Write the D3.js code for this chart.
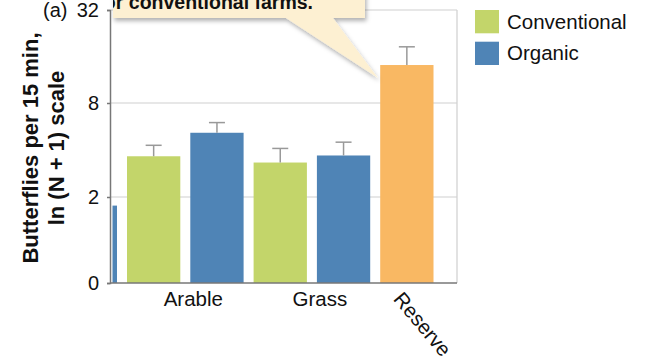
<!DOCTYPE html>
<html>
<head>
<meta charset="utf-8">
<script src="https://cdn.jsdelivr.net/npm/d3@7"></script>
<style>
  html, body { margin: 0; padding: 0; background: #fff; }
  svg { display: block; font-family: "Liberation Sans", Arial, Helvetica, sans-serif; }
</style>
</head>
<body>
<svg id="chart" width="653" height="359"></svg>
<script>
// ---- data ----
const barKeys    = ["prev", "ArableC", "ArableO", "GrassC", "GrassO", "Reserve"];
const barSystems = ["Organic", "Conventional", "Organic", "Conventional", "Organic", "Reserve"];
const barValues  = [1.8, 4.6, 6.1, 4.2, 4.65, 17.8];
const barErrors  = [null, 5.3, 6.75, 5.1, 5.5, 22.5];
const groupLabels = ["Arable", "Grass"];
const groupKeys   = [["ArableC", "ArableO"], ["GrassC", "GrassO"]];
const tickValues  = [0, 2, 8, 32];
const tickLabels  = ["0", "2", "8", "32"];
const legendItems = ["Conventional", "Organic"];
const colors = { Conventional: "#c3d56a", Organic: "#4f84b6", Reserve: "#f9b863" };

const svg = d3.select("#chart");
const plot = { left: 110, right: 457, top: 10, bottom: 283 };

const y = d3.scaleLinear().domain(tickValues).range([283, 197, 103, 10]);
const x = d3.scaleBand().domain(barKeys).range([63.7, 433.5]).paddingInner(0.158).paddingOuter(0);

// clip
const defs = svg.append("defs");
defs.append("clipPath").attr("id", "plotclip").append("rect")
  .attr("x", plot.left + 2.5).attr("y", 0).attr("width", plot.right - plot.left).attr("height", plot.bottom);
defs.append("clipPath").attr("id", "boxclip").append("rect")
  .attr("x", 113).attr("y", -10).attr("width", 252).attr("height", 28);
const f = defs.append("filter").attr("id", "shadow").attr("x", "-10%").attr("y", "-10%").attr("width", "130%").attr("height", "160%");
f.append("feDropShadow").attr("dx", 1.5).attr("dy", 3).attr("stdDeviation", 2).attr("flood-color", "#000").attr("flood-opacity", 0.3);

// frame + gridlines
svg.append("line").attr("x1", plot.right).attr("x2", plot.right).attr("y1", plot.top).attr("y2", plot.bottom)
  .attr("stroke", "#cfcfcf").attr("stroke-width", 1.2);
svg.append("g").selectAll("line").data(tickValues.slice(1)).join("line")
  .attr("x1", plot.left).attr("x2", plot.right)
  .attr("y1", d => y(d)).attr("y2", d => y(d))
  .attr("stroke", "#cfcfcf").attr("stroke-width", 1.2);

// bars
const bars = svg.append("g").attr("clip-path", "url(#plotclip)");
bars.selectAll("rect").data(barKeys).join("rect")
  .attr("x", d => x(d)).attr("width", x.bandwidth())
  .attr("y", (d, i) => y(barValues[i]))
  .attr("height", (d, i) => y(0) - y(barValues[i]))
  .attr("fill", (d, i) => colors[barSystems[i]]);

// error bars
const eb = svg.append("g").attr("stroke", "#999").attr("stroke-width", 1.5);
barKeys.forEach((k, i) => {
  if (barErrors[i] == null) return;
  const cx = x(k) + x.bandwidth() / 2;
  eb.append("line").attr("x1", cx).attr("x2", cx).attr("y1", y(barValues[i])).attr("y2", y(barErrors[i]));
  eb.append("line").attr("x1", cx - 8).attr("x2", cx + 8).attr("y1", y(barErrors[i])).attr("y2", y(barErrors[i]));
});

// axes
const yAxis = d3.axisLeft(y).tickValues(tickValues).tickFormat((d, i) => tickLabels[i]).tickSize(3).tickPadding(8);
const gy = svg.append("g").attr("transform", `translate(${plot.left},0)`).call(yAxis);
gy.select(".domain").attr("stroke", "#777").attr("stroke-width", 1.5);
gy.selectAll(".tick line").attr("stroke", "#777").attr("stroke-width", 1.5);
gy.selectAll(".tick text").attr("font-size", 20).attr("fill", "#111")
  .attr("font-family", "'Liberation Sans', Arial, sans-serif");
svg.append("line").attr("x1", plot.left).attr("x2", plot.right).attr("y1", plot.bottom).attr("y2", plot.bottom)
  .attr("stroke", "#777").attr("stroke-width", 1.5);

// x labels
groupLabels.forEach((lab, i) => {
  const k = groupKeys[i];
  const cx = (x(k[0]) + x(k[1]) + x.bandwidth()) / 2 + 8;
  svg.append("text").attr("x", cx).attr("y", 306).attr("text-anchor", "middle")
    .attr("font-size", 20.5).attr("fill", "#111").text(lab);
});
svg.append("text")
  .attr("transform", `translate(${x("Reserve") + x.bandwidth() / 2 + 16},324) rotate(50)`)
  .attr("text-anchor", "middle").attr("dominant-baseline", "central")
  .attr("font-size", 20.5).attr("fill", "#111").text("Reserve");

// y title
const yt = svg.append("text").attr("transform", "translate(38,148) rotate(-90)")
  .attr("text-anchor", "middle").attr("font-weight", "bold").attr("font-size", 22).attr("fill", "#111");
yt.append("tspan").attr("x", 0).attr("y", 0).text("Butterflies per 15 min,");
yt.append("tspan").attr("x", 0).attr("y", 26).text("ln (N + 1) scale");

// panel letter
svg.append("text").attr("x", 43).attr("y", 17).attr("font-size", 20).attr("fill", "#111").text("(a)");

// callout
svg.append("path")
  .attr("d", "M113,-10 H365 V18 H333 L378,78 L286,18 H113 Z")
  .attr("fill", "#fdf0d2").attr("filter", "url(#shadow)");
svg.append("text").attr("clip-path", "url(#boxclip)")
  .attr("x", 313).attr("y", 9).attr("text-anchor", "end")
  .attr("font-weight", "bold").attr("font-size", 19.5).attr("fill", "#111")
  .text("for conventional farms.");

// legend
const lg = svg.append("g");
legendItems.forEach((name, i) => {
  lg.append("rect").attr("x", 475).attr("y", 10 + i * 31.7).attr("width", 24).attr("height", 23.3)
    .attr("fill", colors[name]);
  lg.append("text").attr("x", 507).attr("y", 28.5 + i * 31.7).attr("font-size", 20.5).attr("fill", "#111").text(name);
});
</script>
</body>
</html>
